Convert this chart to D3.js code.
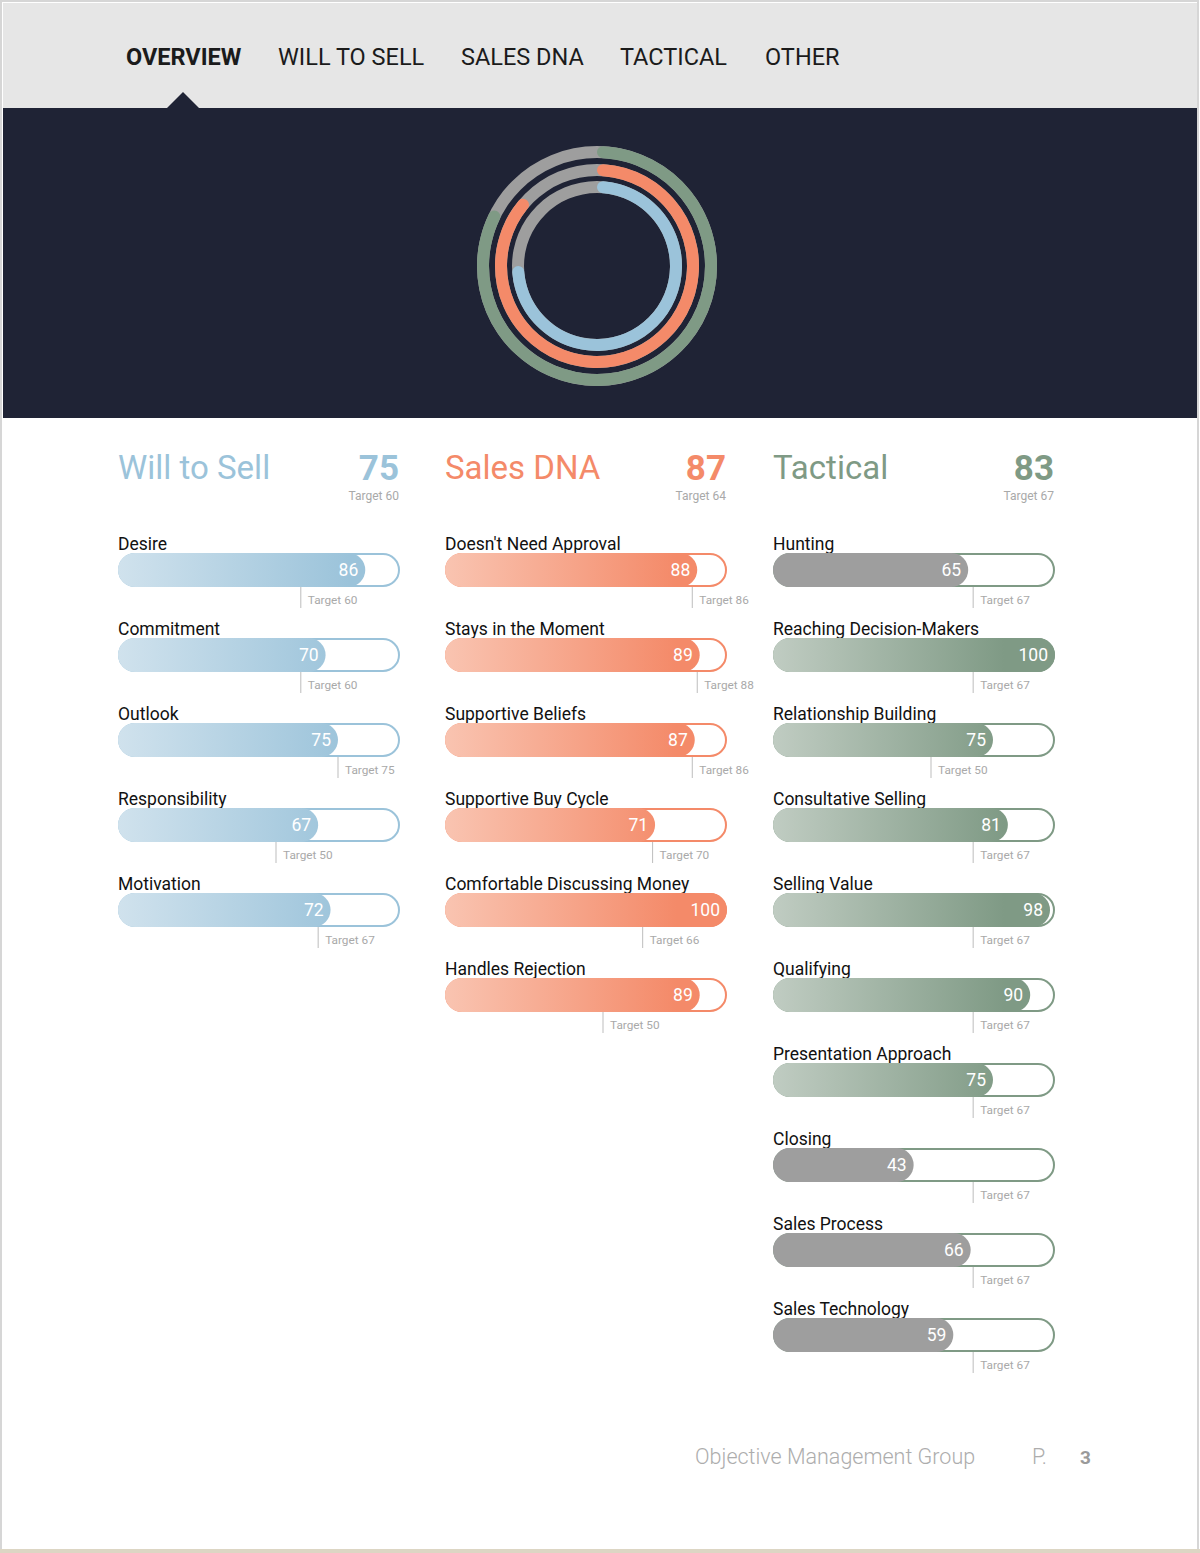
<!DOCTYPE html>
<html lang="en">
<head>
<meta charset="utf-8"/>
<style>
  body { margin: 0; background: #fff; }
  svg { display: block; font-family: Roboto, "Open Sans", sans-serif; }
</style>
</head>
<body>
<svg id="container" width="1200" height="1553"></svg>

<script src="https://d3js.org/d3.v7.min.js"></script>
<script>
// ---- data ----
let navItems = ["OVERVIEW", "WILL TO SELL", "SALES DNA", "TACTICAL", "OTHER"]
let navX = [126, 278, 461, 620, 765]

let groupNames = ["Will to Sell", "Sales DNA", "Tactical"]
let groupScores = [75, 87, 83]
let groupTargets = [60, 64, 67]

let willLabels = ["Desire", "Commitment", "Outlook", "Responsibility", "Motivation"]
let willValues = [86, 70, 75, 67, 72]
let willTargets = [60, 60, 75, 50, 67]

let dnaLabels = ["Doesn't Need Approval", "Stays in the Moment", "Supportive Beliefs",
                 "Supportive Buy Cycle", "Comfortable Discussing Money", "Handles Rejection"]
let dnaValues = [88, 89, 87, 71, 100, 89]
let dnaTargets = [86, 88, 86, 70, 66, 50]

let tacLabels = ["Hunting", "Reaching Decision-Makers", "Relationship Building", "Consultative Selling",
                 "Selling Value", "Qualifying", "Presentation Approach", "Closing", "Sales Process", "Sales Technology"]
let tacValues = [65, 100, 75, 81, 98, 90, 75, 43, 66, 59]
let tacTargets = [67, 67, 50, 67, 67, 67, 67, 67, 67, 67]

// ---- styling ----
let colors = ["#9bc3da", "#f48a69", "#7f9a85"]
let lightColors = ["#d0e2ed", "#f9c4b1", "#c0ccc2"]
let gray = "#9e9e9e"
let colLeft = [118, 445, 773]
let barW = 282, barH = 34
let firstBar = 553, rowStep = 85

let svg = d3.select("svg")

// page frame
svg.append("rect").attr("x", 1).attr("y", 1).attr("width", 1197).attr("height", 1549)
   .attr("fill", "#fff").attr("stroke", "#d6d6d6").attr("stroke-width", 2)
svg.append("rect").attr("x", 0).attr("y", 1549).attr("width", 1200).attr("height", 4).attr("fill", "#ddd6c4")

// header band
svg.append("rect").attr("x", 3).attr("y", 3).attr("width", 1194).attr("height", 106).attr("fill", "#e6e6e6")
svg.selectAll(".nav").data(navItems).enter().append("text")
   .attr("x", (d, i) => navX[i]).attr("y", 65)
   .attr("font-size", 23.5).attr("fill", "#1b1b1b")
   .attr("font-weight", (d, i) => i == 0 ? 700 : 400)
   .text(d => d)

// dark band with pointer
svg.append("rect").attr("x", 3).attr("y", 108).attr("width", 1194).attr("height", 310).attr("fill", "#1f2335")
svg.append("path").attr("d", "M166,109 L183,92 L200,109 Z").attr("fill", "#1f2335")

// rings
let ringR = [79, 96, 114]   // inner = will, middle = dna, outer = tactical
let ringT = 12
let rings = svg.append("g").attr("transform", "translate(597,266)")
groupScores.forEach(function(s, i) {
  let arc = d3.arc().innerRadius(ringR[i] - ringT / 2).outerRadius(ringR[i] + ringT / 2)
  rings.append("path").attr("d", arc({startAngle: 0, endAngle: 2 * Math.PI})).attr("fill", gray)
  rings.append("path")
       .attr("d", arc.cornerRadius(ringT / 2)({startAngle: 0, endAngle: s / 100 * 2 * Math.PI}))
       .attr("fill", colors[i])
})

// gradients
let defs = svg.append("defs")
colLeft.forEach(function(l, i) {
  let g = defs.append("linearGradient").attr("id", "grad" + i)
     .attr("gradientUnits", "userSpaceOnUse")
     .attr("x1", l).attr("x2", l + barW * 0.82).attr("y1", 0).attr("y2", 0)
  g.append("stop").attr("offset", "0%").attr("stop-color", lightColors[i])
  g.append("stop").attr("offset", "100%").attr("stop-color", colors[i])
})

// columns
let groups = [
  {labels: willLabels, values: willValues, targets: willTargets},
  {labels: dnaLabels, values: dnaValues, targets: dnaTargets},
  {labels: tacLabels, values: tacValues, targets: tacTargets}
]

groups.forEach(function(grp, ci) {
  let left = colLeft[ci]
  let right = left + barW - 1
  let g = svg.append("g")

  g.append("text").attr("x", left).attr("y", 479).attr("font-size", 33)
   .attr("fill", colors[ci]).text(groupNames[ci])
  g.append("text").attr("x", right).attr("y", 480).attr("text-anchor", "end")
   .attr("font-size", 35).attr("font-weight", 700).attr("fill", colors[ci]).text(groupScores[ci])
  g.append("text").attr("x", right).attr("y", 500).attr("text-anchor", "end")
   .attr("font-size", 12).attr("fill", "#a9a9a9").text("Target " + groupTargets[ci])

  let x = d3.scaleLinear().domain([0, 100]).range([left + barH, left + barW])
  let y = d3.scaleBand().domain(d3.range(grp.labels.length))
            .range([firstBar, firstBar + rowStep * grp.labels.length]).paddingInner(0)

  let rows = g.selectAll(".row").data(grp.labels).enter().append("g")
              .attr("transform", (d, i) => "translate(0," + y(i) + ")")

  rows.append("text").attr("x", left).attr("y", -3).attr("font-size", 17.5)
      .attr("fill", "#111").text(d => d)

  rows.append("rect").attr("x", left + 1).attr("y", 1).attr("width", barW - 2).attr("height", barH - 2)
      .attr("rx", (barH - 2) / 2).attr("fill", "#fff").attr("stroke", colors[ci]).attr("stroke-width", 2)

  rows.append("rect").attr("x", left).attr("y", 0)
      .attr("width", (d, i) => x(grp.values[i]) - left).attr("height", barH).attr("rx", barH / 2)
      .attr("fill", (d, i) => grp.values[i] < grp.targets[i] ? gray : "url(#grad" + ci + ")")

  rows.append("text").attr("x", (d, i) => x(grp.values[i]) - 7).attr("y", 23)
      .attr("text-anchor", "end").attr("font-size", 17.5).attr("fill", "#fff")
      .text((d, i) => grp.values[i])

  rows.append("line").attr("x1", (d, i) => x(grp.targets[i])).attr("x2", (d, i) => x(grp.targets[i]))
      .attr("y1", barH).attr("y2", barH + 21).attr("stroke", "#bdbdbd").attr("stroke-width", 1)

  rows.append("text").attr("x", (d, i) => x(grp.targets[i]) + 7).attr("y", 51)
      .attr("font-size", 11.8).attr("fill", "#a9a9a9").text((d, i) => "Target " + grp.targets[i])
})

// footer
svg.append("text").attr("x", 695).attr("y", 1464).attr("font-size", 21.5).attr("font-weight", 300)
   .attr("fill", "#adadad").text("Objective Management Group")
svg.append("text").attr("x", 1032).attr("y", 1464).attr("font-size", 21.5).attr("font-weight", 300)
   .attr("fill", "#adadad").text("P.")
svg.append("text").attr("x", 1080).attr("y", 1464).attr("font-size", 19).attr("font-weight", 700)
   .attr("fill", "#9a9a9a").text("3")
</script>
</body>
</html>
